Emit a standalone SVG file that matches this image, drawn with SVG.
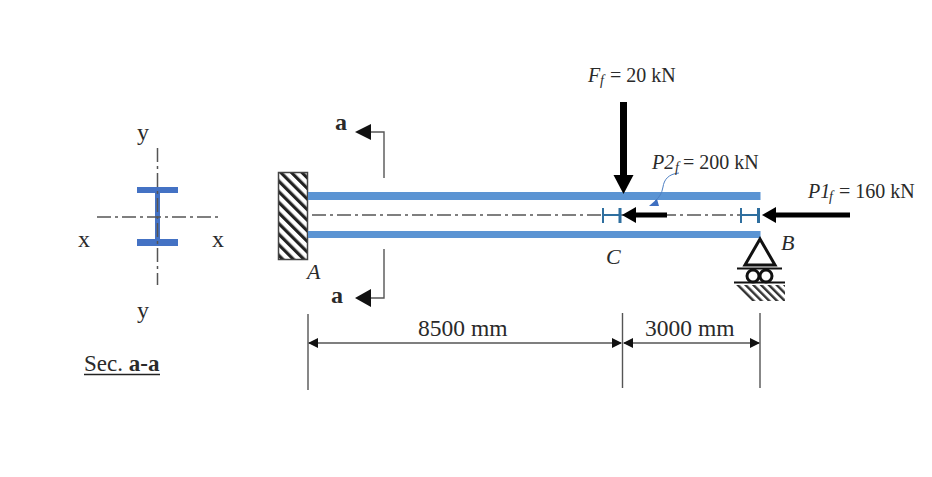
<svg xmlns="http://www.w3.org/2000/svg" width="932" height="477" viewBox="0 0 932 477">
<style>
text{font-family:"Liberation Serif","Times New Roman",serif;font-size:20px;fill:#2a2a2a}
.i{font-style:italic}
.b{font-weight:bold}
.big{font-size:23.500px}
.sc{font-size:23px}
.ax{font-size:24px}
.abc{font-size:22px;font-style:italic}
.sub{font-size:14px;font-style:italic}
.sec{fill:#4472c4}
.fl{fill:#5b94d3}
.cl{stroke:#555;stroke-width:1.500;fill:none;stroke-dasharray:14 4 3 4}
.ln{stroke:#555;stroke-width:1.400;fill:none}
.tick{stroke:#2f6f9f;stroke-width:2;fill:none}
.tk2{stroke:#2f6f9f;stroke-width:3;fill:none}
</style>
<defs>
<pattern id="hatch" width="7.500" height="7.500" patternUnits="userSpaceOnUse" patternTransform="rotate(-45)">
<rect width="7.500" height="7.500" fill="#fff"/><rect width="3.200" height="7.500" fill="#222"/>
</pattern>
<pattern id="hatch2" width="5.500" height="5.500" patternUnits="userSpaceOnUse" patternTransform="rotate(-45)">
<rect width="5.500" height="5.500" fill="#fff"/><rect width="2.400" height="5.500" fill="#333"/>
</pattern>
<marker id="dim" markerWidth="10" markerHeight="10" refX="9" refY="5" orient="auto-start-reverse" markerUnits="userSpaceOnUse"><path d="M0 0L10 5L0 10z" fill="#111"/></marker>
</defs>

<g id="section">
<rect class="sec" x="137" y="187" width="41" height="6"/>
<rect class="sec" x="137" y="239" width="41" height="7"/>
<rect class="sec" x="155" y="190" width="5" height="52"/>
<path class="cl" d="M97 217H221"/>
<path class="cl" d="M157.500 148V285" stroke-dasharray="10 4 2 4"/>
<text x="137" y="140" class="ax">y</text>
<text x="137" y="318" class="ax">y</text>
<text x="78" y="247" class="ax">x</text>
<text x="212" y="247" class="ax">x</text>
<text x="84" y="371" class="sc">Sec. <tspan class="b">a-a</tspan></text>
<path d="M84 374.500H160" stroke="#222" stroke-width="1.500"/>
</g>

<g id="wall">
<rect x="278.500" y="172.500" width="29" height="87" fill="url(#hatch)" stroke="#444" stroke-width="1.500"/>
</g>

<g id="beam">
<rect class="fl" x="308" y="192" width="452.500" height="8"/>
<rect class="fl" x="308" y="231" width="452.500" height="7"/>
<path class="cl" d="M312 215H760"/>
<path class="tick" d="M603 208V223M603 215H620M741 208V223M741 215H758"/>
<path class="tk2" d="M620 208V223M758.500 208V223"/>
<text x="307" y="279" class="abc">A</text>
<text x="606" y="264" class="abc">C</text>
<text x="781" y="250" class="abc">B</text>
</g>

<g id="section-marks">
<path class="ln" d="M384 178V132H368M384 249V298H368"/>
<path d="M355 132L371 124V140z M355 298L371 289V307z" fill="#111"/>
<text x="335" y="130" class="b ax">a</text>
<text x="331" y="303" class="b ax">a</text>
</g>

<g id="support">
<path d="M760 239L745 265H775z" fill="#fff" stroke="#111" stroke-width="3"/>
<path d="M737 268.500H782M734 282.500H785" stroke="#111" stroke-width="2"/>
<circle cx="753" cy="276" r="6" fill="#fff" stroke="#111" stroke-width="3"/>
<circle cx="766" cy="276" r="6" fill="#fff" stroke="#111" stroke-width="3"/>
<path d="M735 285H785V301H751z" fill="url(#hatch2)"/>
</g>

<g id="connectors">
<path d="M623.500 102V178" stroke="#000" stroke-width="7"/>
<path d="M613.500 175H633.500L623.500 194z" fill="#000"/>
<path d="M667 215H632" stroke="#000" stroke-width="5"/>
<path d="M622 215L636 207V223z" fill="#000"/>
<path d="M850 215H772" stroke="#000" stroke-width="5"/>
<path d="M762 215L776 207V223z" fill="#000"/>
<path d="M679 173C668 174 664 180 663 187C662 193 659 198 655 201" stroke="#4f81c4" stroke-width="1" fill="none"/>
<path d="M649 206L657 199L659 206z" fill="#3f6fc0"/>
<path class="ln" d="M308 314V390M622.500 313V388M760 313V388"/>
<path class="ln" d="M309 343H621" marker-start="url(#dim)" marker-end="url(#dim)"/>
<path class="ln" d="M624 343H759" marker-start="url(#dim)" marker-end="url(#dim)"/>
</g>

<g id="labels">
<text y="82"><tspan x="588" class="i">F</tspan><tspan x="600" dy="3" class="sub">f</tspan><tspan x="610" dy="-3">= 20 kN</tspan></text>
<text y="169"><tspan x="652" class="i">P2</tspan><tspan x="675" dy="3" class="sub">f</tspan><tspan x="683" dy="-3">= 200 kN</tspan></text>
<text y="198"><tspan x="808" class="i">P1</tspan><tspan x="829" dy="3" class="sub">f</tspan><tspan x="839" dy="-3">= 160 kN</tspan></text>
<text x="418" y="336" class="big">8500 mm</text>
<text x="645" y="336" class="big">3000 mm</text>
</g>
</svg>
